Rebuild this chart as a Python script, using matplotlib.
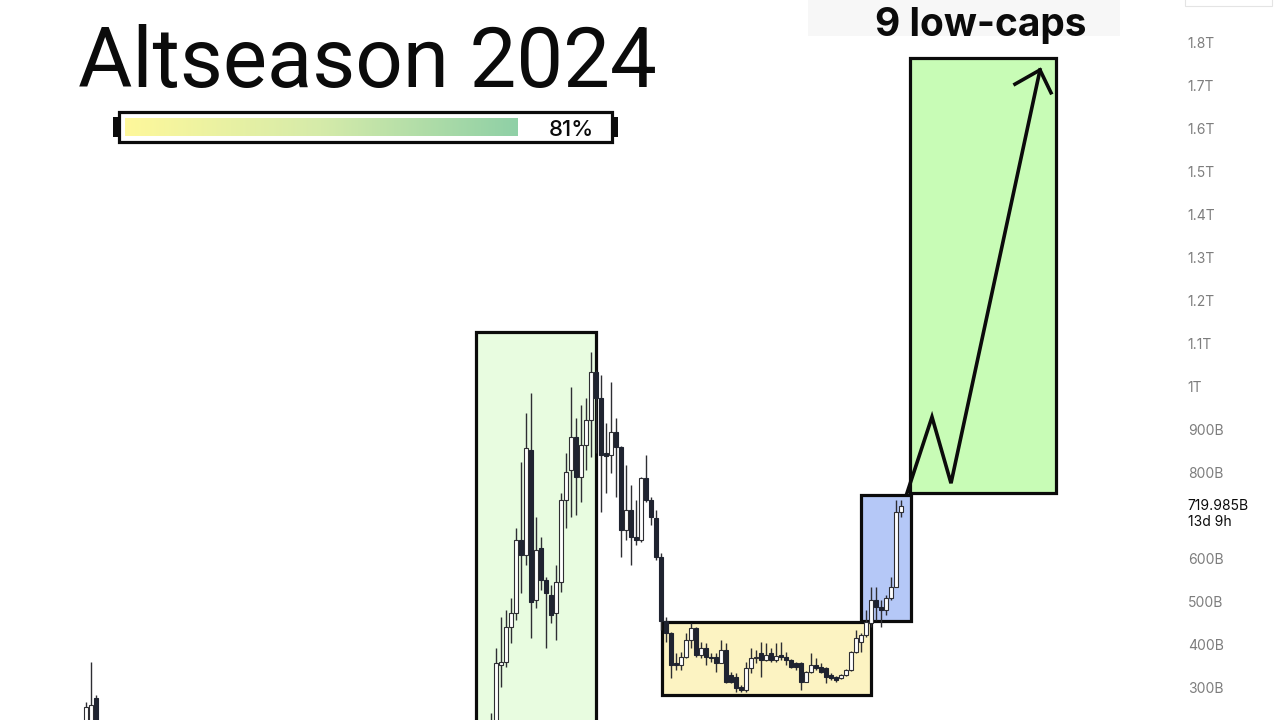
"""Altseason 2024 - total market cap candles with setup boxes."""

import matplotlib as mpl
import matplotlib.pyplot as plt
import numpy as np
from matplotlib.patches import Rectangle

plt.rcParams["font.family"] = ["Inter", "DejaVu Sans"]

INK = "#0b0b0b"
WICK = "#2e2e33"
DARK = "#1f2330"
MUTED = "#7d7d7d"

# Candle data (billions USD). Index = candle number, 0 = first candle of the rally.
day = [-82, -81, -80] + list(range(-1, 82))
opens = [200, 210, 274,
         180, 215, 351, 358, 440, 472, 642, 607, 851, 502, 623, 549, 514, 472, 544, 735,
         805, 881, 788, 863, 921, 1033, 972, 845, 840, 893, 858, 665, 712, 649, 642, 786,
         735, 693, 602, 453, 426, 356, 351, 370, 409, 437, 374, 391, 370, 370, 356, 386,
         328, 323, 300, 293, 344, 367, 379, 363, 379, 363, 374, 370, 363, 356, 356, 312,
         335, 351, 346, 344, 328, 323, 321, 328, 340, 381, 405, 421, 449, 502, 486, 479,
         507, 533, 707]
highs = [265, 358, 281,
         239, 391, 463, 479, 507, 670, 823, 937, 984, 695, 649, 556, 537, 584, 751, 844,
         998, 926, 956, 972, 1079, 1037, 1026, 914, 1009, 926, 860, 816, 770, 735, 788, 840,
         742, 712, 612, 463, 428, 379, 381, 426, 449, 440, 405, 402, 379, 379, 409, 402,
         335, 333, 305, 358, 391, 386, 405, 402, 391, 402, 405, 381, 365, 358, 358, 337,
         379, 367, 356, 346, 333, 326, 330, 342, 384, 433, 426, 479, 533, 533, 502, 514,
         556, 735, 735]
lows = [190, 200, 200,
        170, 205, 300, 347, 402, 456, 519, 584, 414, 484, 526, 391, 449, 409, 521, 670,
        695, 700, 730, 805, 835, 844, 707, 751, 798, 742, 602, 642, 584, 630, 637, 730,
        677, 595, 433, 405, 321, 340, 340, 367, 391, 370, 367, 351, 358, 335, 356, 309,
        309, 288, 288, 288, 333, 356, 323, 360, 358, 358, 363, 351, 344, 340, 293, 312,
        333, 340, 333, 309, 316, 312, 318, 326, 337, 379, 381, 416, 440, 456, 440, 467,
        502, 544, 695]
closes = [254, 258, 215,
          215, 356, 358, 440, 472, 642, 607, 856, 498, 619, 549, 519, 467, 544, 735, 800,
          881, 788, 863, 921, 1033, 972, 840, 838, 893, 858, 665, 712, 649, 642, 786, 735,
          695, 602, 453, 426, 351, 351, 370, 409, 437, 374, 391, 370, 367, 356, 386, 312,
          312, 298, 293, 344, 367, 370, 363, 374, 363, 372, 370, 363, 346, 346, 312, 335,
          351, 344, 335, 323, 321, 316, 328, 340, 381, 414, 421, 451, 502, 486, 479, 507,
          533, 707, 720]

last_price = "719.985B"
countdown = "13d 9h"

# Setup zones: (first candle, last candle, bottom, top) in candle index / billions
rally_zone = (-4.0, 20.0, 150, 1126)
range_zone = (33.2, 75.0, 281, 451)
breakout_zone = (73.0, 83.0, 453, 746)
target_zone = (82.8, 112.0, 751, 1763)

# Projected path of the move
path_x = [82.2, 87.2, 91.0, 108.8]
path_y = [751, 928, 774, 1735]
head_x = [103.8, 108.8, 111.0]
head_y = [1702, 1735, 1682]

price_ticks = [300, 400, 500, 600, 800, 900, 1000, 1100, 1200, 1300, 1400, 1500,
               1600, 1700, 1800]
price_labels = ["300B", "400B", "500B", "600B", "800B", "900B", "1T", "1.1T", "1.2T",
                "1.3T", "1.4T", "1.5T", "1.6T", "1.7T", "1.8T"]

progress = 81  # percent

fig = plt.figure(figsize=(12.8, 7.2), dpi=100)
fig.patch.set_facecolor("white")
ax = fig.add_axes([0, 0, 1178 / 1280, 1])
ax.set_facecolor("white")
for s in ax.spines.values():
    s.set_visible(False)

# zones
zones = [(rally_zone, "#e8fce0"), (range_zone, "#fcf3c2"),
         (breakout_zone, "#b5c8f7"), (target_zone, "#c8fcb6")]
for (x0, x1, y0, y1), fc in zones:
    ax.add_patch(Rectangle((x0, y0), x1 - x0, y1 - y0, facecolor=fc,
                           edgecolor="none", zorder=1))
    ax.add_patch(Rectangle((x0, y0), x1 - x0, y1 - y0, facecolor="none",
                           edgecolor=INK, lw=2.3, zorder=2))

# candles
d = np.array(day)
o, h, l, c = map(np.array, (opens, highs, lows, closes))
up = c >= o
ax.vlines(d, l, h, color=WICK, lw=1.0, zorder=3)
ax.bar(d[up], (c - o)[up], bottom=o[up], width=0.66, color="white",
       edgecolor=WICK, lw=0.8, zorder=4)
ax.bar(d[~up], (o - c)[~up], bottom=c[~up], width=0.66, color=DARK,
       edgecolor=DARK, lw=0.8, zorder=4)

# projection
ax.plot(path_x, path_y, color=INK, lw=2.6, solid_joinstyle="miter", zorder=5)
ax.plot(head_x, head_y, color=INK, lw=2.6, solid_joinstyle="miter", zorder=5)

ax.set_xlim(-99.2, 136.4)
ax.set_ylim(223.3, 1897.7)
ax.set_xticks([])
ax.yaxis.tick_right()
ax.set_yticks(price_ticks, price_labels)
ax.tick_params(axis="y", length=0, pad=7, labelsize=10, labelcolor=MUTED)

trans = mpl.transforms.blended_transform_factory(ax.transAxes, ax.transData)
ax.annotate(last_price, xy=(1, closes[-1]), xycoords=trans, xytext=(7, 0),
            textcoords="offset points", va="center", ha="left", fontsize=10,
            color=INK, annotation_clip=False)
ax.annotate(countdown, xy=(1, closes[-1]), xycoords=trans, xytext=(7, -11.5),
            textcoords="offset points", va="center", ha="left", fontsize=10,
            color=INK, annotation_clip=False)

# overlay in pixel space for the headline graphics
ov = fig.add_axes([0, 0, 1, 1], zorder=10)
ov.set_xlim(0, 1280)
ov.set_ylim(720, 0)
ov.axis("off")
ov.patch.set_alpha(0)

ov.add_patch(Rectangle((808, -2), 312, 38, facecolor="#f7f7f7", edgecolor="none"))
ov.add_patch(Rectangle((1185, -6), 87, 12, facecolor="white", edgecolor="#e4e4e4",
                       lw=0.8))
ov.text(981, 36, "9 low-caps", ha="center", va="baseline", fontsize=28,
        fontweight="bold", color=INK)

ov.text(78, 87, "Altseason 2024", ha="left", va="baseline", fontsize=60,
        family=["Roboto", "DejaVu Sans"], color=INK)

# progress bar
bar_l, bar_r = 125, 610
ov.add_patch(Rectangle((119, 112), 493, 30, facecolor="white", edgecolor=INK, lw=2.3))
ov.add_patch(Rectangle((113, 117), 6, 20, facecolor=INK, edgecolor="none"))
ov.add_patch(Rectangle((612, 117), 6, 20, facecolor=INK, edgecolor="none"))
fill_r = bar_l + (bar_r - bar_l) * progress / 100
grad = mpl.colors.LinearSegmentedColormap.from_list("g", ["#fef89b", "#d5ebaa", "#8fd0a6"])
ov.imshow(np.linspace(0, 1, 256)[None, :], cmap=grad, aspect="auto",
          extent=(bar_l, fill_r, 136, 118), zorder=3)
ov.text(571, 136, f"{progress}%", ha="center", va="baseline", fontsize=16,
        fontweight="medium", color=INK)
ov.set_xlim(0, 1280)
ov.set_ylim(720, 0)

fig.savefig("out.png", dpi=100)
